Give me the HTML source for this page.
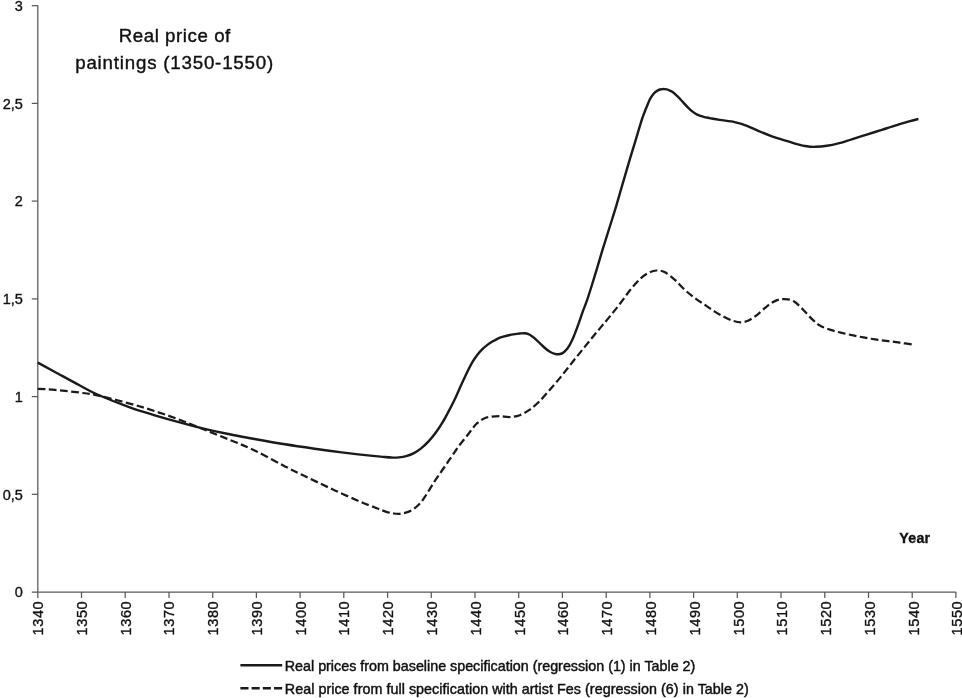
<!DOCTYPE html>
<html lang="en"><head><meta charset="utf-8"><title>Real price of paintings (1350-1550)</title>
<style>html,body{margin:0;padding:0;background:#fff}svg{display:block}text{font-family:"Liberation Sans",sans-serif;fill:#111;stroke:#111;stroke-width:.35px}.t text{stroke-width:.4px}.l text{stroke-width:.45px}</style></head><body>
<svg width="962" height="698" viewBox="0 0 962 698">
<rect width="962" height="698" fill="#fff"/>
<g stroke="#585858" stroke-width="1.25" fill="none">
<path d="M37.8 5.2V598.0"/>
<path d="M31.8 592.0H955.9"/>
<path d="M31.8 494.3H37.8"/>
<path d="M31.8 396.6H37.8"/>
<path d="M31.8 298.9H37.8"/>
<path d="M31.8 201.1H37.8"/>
<path d="M31.8 103.4H37.8"/>
<path d="M31.8 5.7H37.8"/>
<path d="M81.5 592.0V598.0"/>
<path d="M125.2 592.0V598.0"/>
<path d="M169.0 592.0V598.0"/>
<path d="M212.7 592.0V598.0"/>
<path d="M256.4 592.0V598.0"/>
<path d="M300.1 592.0V598.0"/>
<path d="M343.8 592.0V598.0"/>
<path d="M387.6 592.0V598.0"/>
<path d="M431.3 592.0V598.0"/>
<path d="M475.0 592.0V598.0"/>
<path d="M518.7 592.0V598.0"/>
<path d="M562.4 592.0V598.0"/>
<path d="M606.2 592.0V598.0"/>
<path d="M649.9 592.0V598.0"/>
<path d="M693.6 592.0V598.0"/>
<path d="M737.3 592.0V598.0"/>
<path d="M781.0 592.0V598.0"/>
<path d="M824.8 592.0V598.0"/>
<path d="M868.5 592.0V598.0"/>
<path d="M912.2 592.0V598.0"/>
<path d="M955.9 592.0V598.0"/>
</g>
<g font-size="14.5" text-anchor="end">
<text x="22.9" y="597.2">0</text>
<text x="22.9" y="499.5">0,5</text>
<text x="22.9" y="401.8">1</text>
<text x="22.9" y="304.1">1,5</text>
<text x="22.9" y="206.3">2</text>
<text x="22.9" y="108.6">2,5</text>
<text x="22.9" y="10.9">3</text>
</g>
<g font-size="14.5" text-anchor="end">
<text transform="translate(42.9 601.4) rotate(-90)" textLength="34">1340</text>
<text transform="translate(86.7 601.4) rotate(-90)" textLength="34">1350</text>
<text transform="translate(130.5 601.4) rotate(-90)" textLength="34">1360</text>
<text transform="translate(174.3 601.4) rotate(-90)" textLength="34">1370</text>
<text transform="translate(218.1 601.4) rotate(-90)" textLength="34">1380</text>
<text transform="translate(261.8 601.4) rotate(-90)" textLength="34">1390</text>
<text transform="translate(305.6 601.4) rotate(-90)" textLength="34">1400</text>
<text transform="translate(349.4 601.4) rotate(-90)" textLength="34">1410</text>
<text transform="translate(393.2 601.4) rotate(-90)" textLength="34">1420</text>
<text transform="translate(437.0 601.4) rotate(-90)" textLength="34">1430</text>
<text transform="translate(480.8 601.4) rotate(-90)" textLength="34">1440</text>
<text transform="translate(524.6 601.4) rotate(-90)" textLength="34">1450</text>
<text transform="translate(568.4 601.4) rotate(-90)" textLength="34">1460</text>
<text transform="translate(612.1 601.4) rotate(-90)" textLength="34">1470</text>
<text transform="translate(655.9 601.4) rotate(-90)" textLength="34">1480</text>
<text transform="translate(699.7 601.4) rotate(-90)" textLength="34">1490</text>
<text transform="translate(743.5 601.4) rotate(-90)" textLength="34">1500</text>
<text transform="translate(787.3 601.4) rotate(-90)" textLength="34">1510</text>
<text transform="translate(831.1 601.4) rotate(-90)" textLength="34">1520</text>
<text transform="translate(874.9 601.4) rotate(-90)" textLength="34">1530</text>
<text transform="translate(918.7 601.4) rotate(-90)" textLength="34">1540</text>
<text transform="translate(962.4 601.4) rotate(-90)" textLength="34">1550</text>
</g>
<g class="t" font-size="18.7"><text x="118.7" y="41.6" textLength="111.6">Real price of</text><text x="75.2" y="68.9" textLength="198">paintings (1350-1550)</text></g>
<text x="899.3" y="542.5" font-size="14.2" font-weight="bold" textLength="30.8">Year</text>
<path d="M37.8 362.6C40.7 364.2 48.0 368.2 55.0 372.0C62.0 375.8 72.8 381.8 79.9 385.5C87.0 389.2 89.1 390.9 97.4 394.5C105.7 398.1 120.2 403.9 129.8 407.4C139.4 410.9 146.5 412.8 154.8 415.3C163.1 417.8 171.4 420.1 179.7 422.3C188.0 424.6 196.4 426.8 204.7 428.8C213.0 430.8 221.3 432.6 229.6 434.3C237.9 436.0 245.4 437.3 254.6 439.0C263.8 440.7 275.0 442.7 285.0 444.3C295.0 445.9 304.8 447.3 314.6 448.7C324.4 450.1 334.0 451.4 343.7 452.6C353.4 453.8 366.0 455.2 372.8 455.9C379.6 456.6 381.0 456.7 384.4 457.0C387.8 457.3 390.7 457.5 393.1 457.6C395.5 457.7 396.8 457.6 399.0 457.4C401.2 457.2 403.8 456.9 406.2 456.2C408.6 455.5 411.1 454.7 413.5 453.4C415.9 452.1 418.4 450.5 420.8 448.6C423.2 446.7 425.7 444.5 428.1 441.9C430.5 439.3 432.9 436.4 435.3 433.2C437.7 430.0 440.2 426.2 442.4 422.6C444.6 419.0 446.5 415.3 448.6 411.4C450.7 407.5 452.8 403.3 454.8 399.2C456.8 395.1 458.5 390.9 460.5 386.5C462.5 382.1 464.8 377.1 466.8 373.0C468.8 368.9 470.6 365.2 472.4 362.2C474.2 359.2 475.7 357.0 477.4 354.8C479.1 352.6 480.7 350.9 482.4 349.2C484.1 347.5 485.7 346.2 487.4 344.9C489.1 343.6 490.7 342.5 492.4 341.5C494.1 340.5 495.7 339.6 497.4 338.8C499.1 338.0 500.3 337.5 502.4 336.9C504.5 336.3 507.7 335.5 509.8 335.0C511.9 334.5 513.1 334.4 514.8 334.1C516.5 333.9 518.1 333.6 519.8 333.5C521.5 333.4 523.3 333.2 524.8 333.3C526.2 333.4 527.2 333.7 528.5 334.2C529.8 334.7 531.0 335.5 532.3 336.4C533.5 337.3 534.7 338.4 536.0 339.6C537.3 340.8 538.5 342.0 540.0 343.4C541.5 344.8 543.2 346.6 544.9 348.0C546.5 349.4 548.2 350.7 549.9 351.7C551.6 352.7 553.4 353.4 554.9 353.8C556.4 354.2 557.4 354.4 558.7 354.2C560.1 354.0 561.5 353.8 563.0 352.9C564.5 352.0 566.0 350.4 567.4 348.6C568.8 346.8 569.9 344.8 571.1 342.3C572.4 339.8 573.6 336.7 574.9 333.6C576.1 330.5 577.4 327.1 578.6 323.6C579.9 320.1 581.0 316.5 582.4 312.6C583.8 308.7 585.3 305.2 587.0 300.3C588.7 295.4 590.7 289.0 592.4 283.5C594.1 278.0 595.7 272.8 597.4 267.2C599.1 261.6 600.7 255.8 602.4 250.2C604.1 244.6 606.0 238.9 607.6 233.7C609.2 228.5 610.8 223.6 612.2 219.0C613.6 214.4 614.5 211.8 616.2 206.1C617.9 200.4 620.3 191.7 622.4 184.6C624.5 177.5 626.5 170.3 628.6 163.3C630.7 156.3 633.2 148.2 634.9 142.6C636.6 137.0 637.5 134.0 638.7 129.9C640.0 125.8 641.1 121.7 642.4 118.0C643.6 114.3 645.0 111.1 646.2 108.0C647.5 104.9 648.7 101.7 649.9 99.3C651.1 96.9 652.4 95.2 653.6 93.7C654.9 92.2 656.1 91.3 657.4 90.6C658.6 89.9 659.9 89.5 661.1 89.3C662.4 89.0 663.6 89.0 664.9 89.1C666.1 89.2 667.4 89.5 668.6 90.0C669.8 90.5 670.8 90.8 672.3 91.8C673.8 92.8 675.6 94.6 677.3 96.2C679.0 97.8 680.6 99.6 682.3 101.4C684.0 103.2 685.6 105.1 687.3 106.8C689.0 108.5 690.6 110.1 692.3 111.4C694.0 112.7 695.4 113.8 697.3 114.7C699.2 115.6 701.4 116.2 703.5 116.8C705.6 117.4 707.1 117.6 709.8 118.1C712.5 118.6 715.6 119.2 719.7 119.9C723.8 120.6 730.1 121.1 734.6 122.1C739.1 123.1 742.9 124.3 747.0 125.8C751.1 127.3 755.3 129.6 759.5 131.3C763.7 133.1 767.8 134.8 772.0 136.3C776.2 137.8 780.4 139.0 784.5 140.3C788.6 141.6 793.2 143.1 796.9 144.1C800.6 145.1 803.7 145.9 806.8 146.3C809.9 146.8 812.3 146.9 815.6 146.8C818.9 146.7 822.8 146.4 826.8 145.8C830.8 145.2 835.1 144.2 839.3 143.1C843.4 142.0 847.1 140.7 851.7 139.3C856.3 137.9 861.7 136.2 866.7 134.6C871.7 133.0 876.7 131.5 881.7 129.9C886.7 128.3 892.1 126.5 896.7 125.1C901.3 123.7 905.5 122.4 909.1 121.4C912.7 120.4 916.9 119.3 918.4 118.9" fill="none" stroke="#1a1a1a" stroke-width="2.4" stroke-linejoin="round"/>
<path d="M37.8 388.8C40.7 389.0 48.0 389.3 55.0 389.9C62.0 390.5 72.8 391.7 79.9 392.6C87.0 393.5 89.1 393.6 97.4 395.4C105.7 397.2 120.2 401.0 129.8 403.6C139.4 406.2 146.5 408.4 154.8 411.1C163.1 413.8 171.4 416.7 179.7 419.8C188.0 422.9 196.4 426.5 204.7 429.8C213.0 433.1 221.3 436.4 229.6 439.8C237.9 443.2 245.4 446.1 254.6 450.5C263.8 454.9 275.8 461.7 285.0 466.4C294.2 471.1 301.6 474.6 309.9 478.6C318.2 482.6 326.6 486.6 334.9 490.4C343.2 494.2 352.7 498.5 359.8 501.5C366.9 504.5 373.1 506.8 377.5 508.5C381.9 510.2 383.5 511.0 386.2 511.8C388.9 512.6 391.4 513.2 393.7 513.5C396.0 513.8 397.6 514.0 399.9 513.8C402.2 513.6 405.1 512.9 407.4 512.1C409.7 511.3 411.6 510.4 413.7 509.0C415.8 507.6 418.0 505.6 419.9 503.6C421.8 501.6 423.2 499.2 424.9 496.8C426.6 494.4 428.2 491.5 429.9 488.9C431.6 486.2 433.2 483.4 434.9 480.9C436.6 478.3 438.2 476.0 439.9 473.6C441.5 471.2 443.1 468.9 444.8 466.5C446.5 464.1 448.1 461.6 449.8 459.2C451.5 456.8 453.1 454.2 454.8 451.8C456.5 449.4 457.5 447.8 459.8 444.8C462.1 441.8 465.9 437.1 468.6 433.7C471.3 430.3 473.5 426.8 476.0 424.3C478.5 421.8 481.0 419.9 483.5 418.7C486.0 417.4 488.3 417.2 491.0 416.8C493.7 416.4 496.5 416.2 499.6 416.2C502.8 416.2 506.5 417.2 509.9 417.0C513.3 416.8 516.5 416.4 519.8 415.2C523.1 414.0 526.5 412.1 529.8 409.7C533.1 407.3 536.5 404.3 539.8 401.0C543.1 397.7 546.5 393.6 549.8 389.8C553.1 386.0 556.5 382.1 559.8 378.1C563.1 374.1 566.4 369.8 569.7 365.6C573.0 361.4 576.4 357.2 579.7 353.1C583.0 349.0 586.4 344.8 589.7 340.7C593.0 336.6 596.4 332.6 599.7 328.6C603.0 324.6 606.4 320.7 609.7 316.6C613.0 312.6 616.2 308.7 619.6 304.3C623.0 299.9 626.4 294.7 629.8 290.5C633.2 286.3 636.7 282.1 639.8 279.2C642.9 276.2 645.8 274.2 648.6 272.8C651.4 271.4 653.9 270.6 656.5 270.5C659.1 270.4 661.4 270.5 664.5 272.1C667.6 273.7 671.5 276.9 674.9 279.9C678.3 282.9 681.6 286.9 684.9 289.9C688.2 292.9 691.6 295.6 694.9 298.1C698.2 300.6 701.5 302.6 704.8 304.8C708.1 307.1 711.5 309.5 714.8 311.6C718.1 313.7 721.7 315.7 724.8 317.3C727.9 318.9 730.8 320.2 733.5 321.0C736.2 321.8 738.5 322.4 741.0 322.3C743.5 322.2 745.8 321.8 748.5 320.5C751.2 319.2 754.1 317.2 757.2 314.8C760.3 312.4 764.1 308.5 767.2 306.1C770.3 303.7 773.0 301.8 775.9 300.6C778.8 299.4 781.8 299.0 784.7 299.1C787.6 299.2 790.5 299.5 793.4 301.1C796.3 302.7 799.0 305.6 802.1 308.6C805.2 311.7 809.2 316.5 812.3 319.4C815.4 322.3 817.5 324.1 820.6 325.9C823.7 327.6 827.1 328.7 830.6 329.9C834.1 331.1 838.0 332.0 841.8 332.9C845.6 333.8 849.4 334.6 853.2 335.4C857.1 336.2 861.0 337.0 864.9 337.7C868.8 338.4 872.6 339.0 876.5 339.6C880.4 340.2 884.3 340.6 888.2 341.1C892.1 341.6 895.6 342.1 899.8 342.7C904.0 343.3 911.0 344.3 913.3 344.6" fill="none" stroke="#1a1a1a" stroke-width="2.25" stroke-dasharray="7.7 3.45" stroke-linejoin="round"/>
<path d="M240.4 665.3H282.2" stroke="#1a1a1a" stroke-width="2.5"/>
<path d="M240.4 688.2H282.2" stroke="#1a1a1a" stroke-width="2.5" stroke-dasharray="8.1 3.1"/>
<g class="l" font-size="14.3"><text x="284.8" y="671" textLength="410.5">Real prices from baseline specification (regression (1) in Table 2)</text>
<text x="284.8" y="694" textLength="464">Real price from full specification with artist Fes (regression (6) in Table 2)</text></g>
</svg></body></html>
